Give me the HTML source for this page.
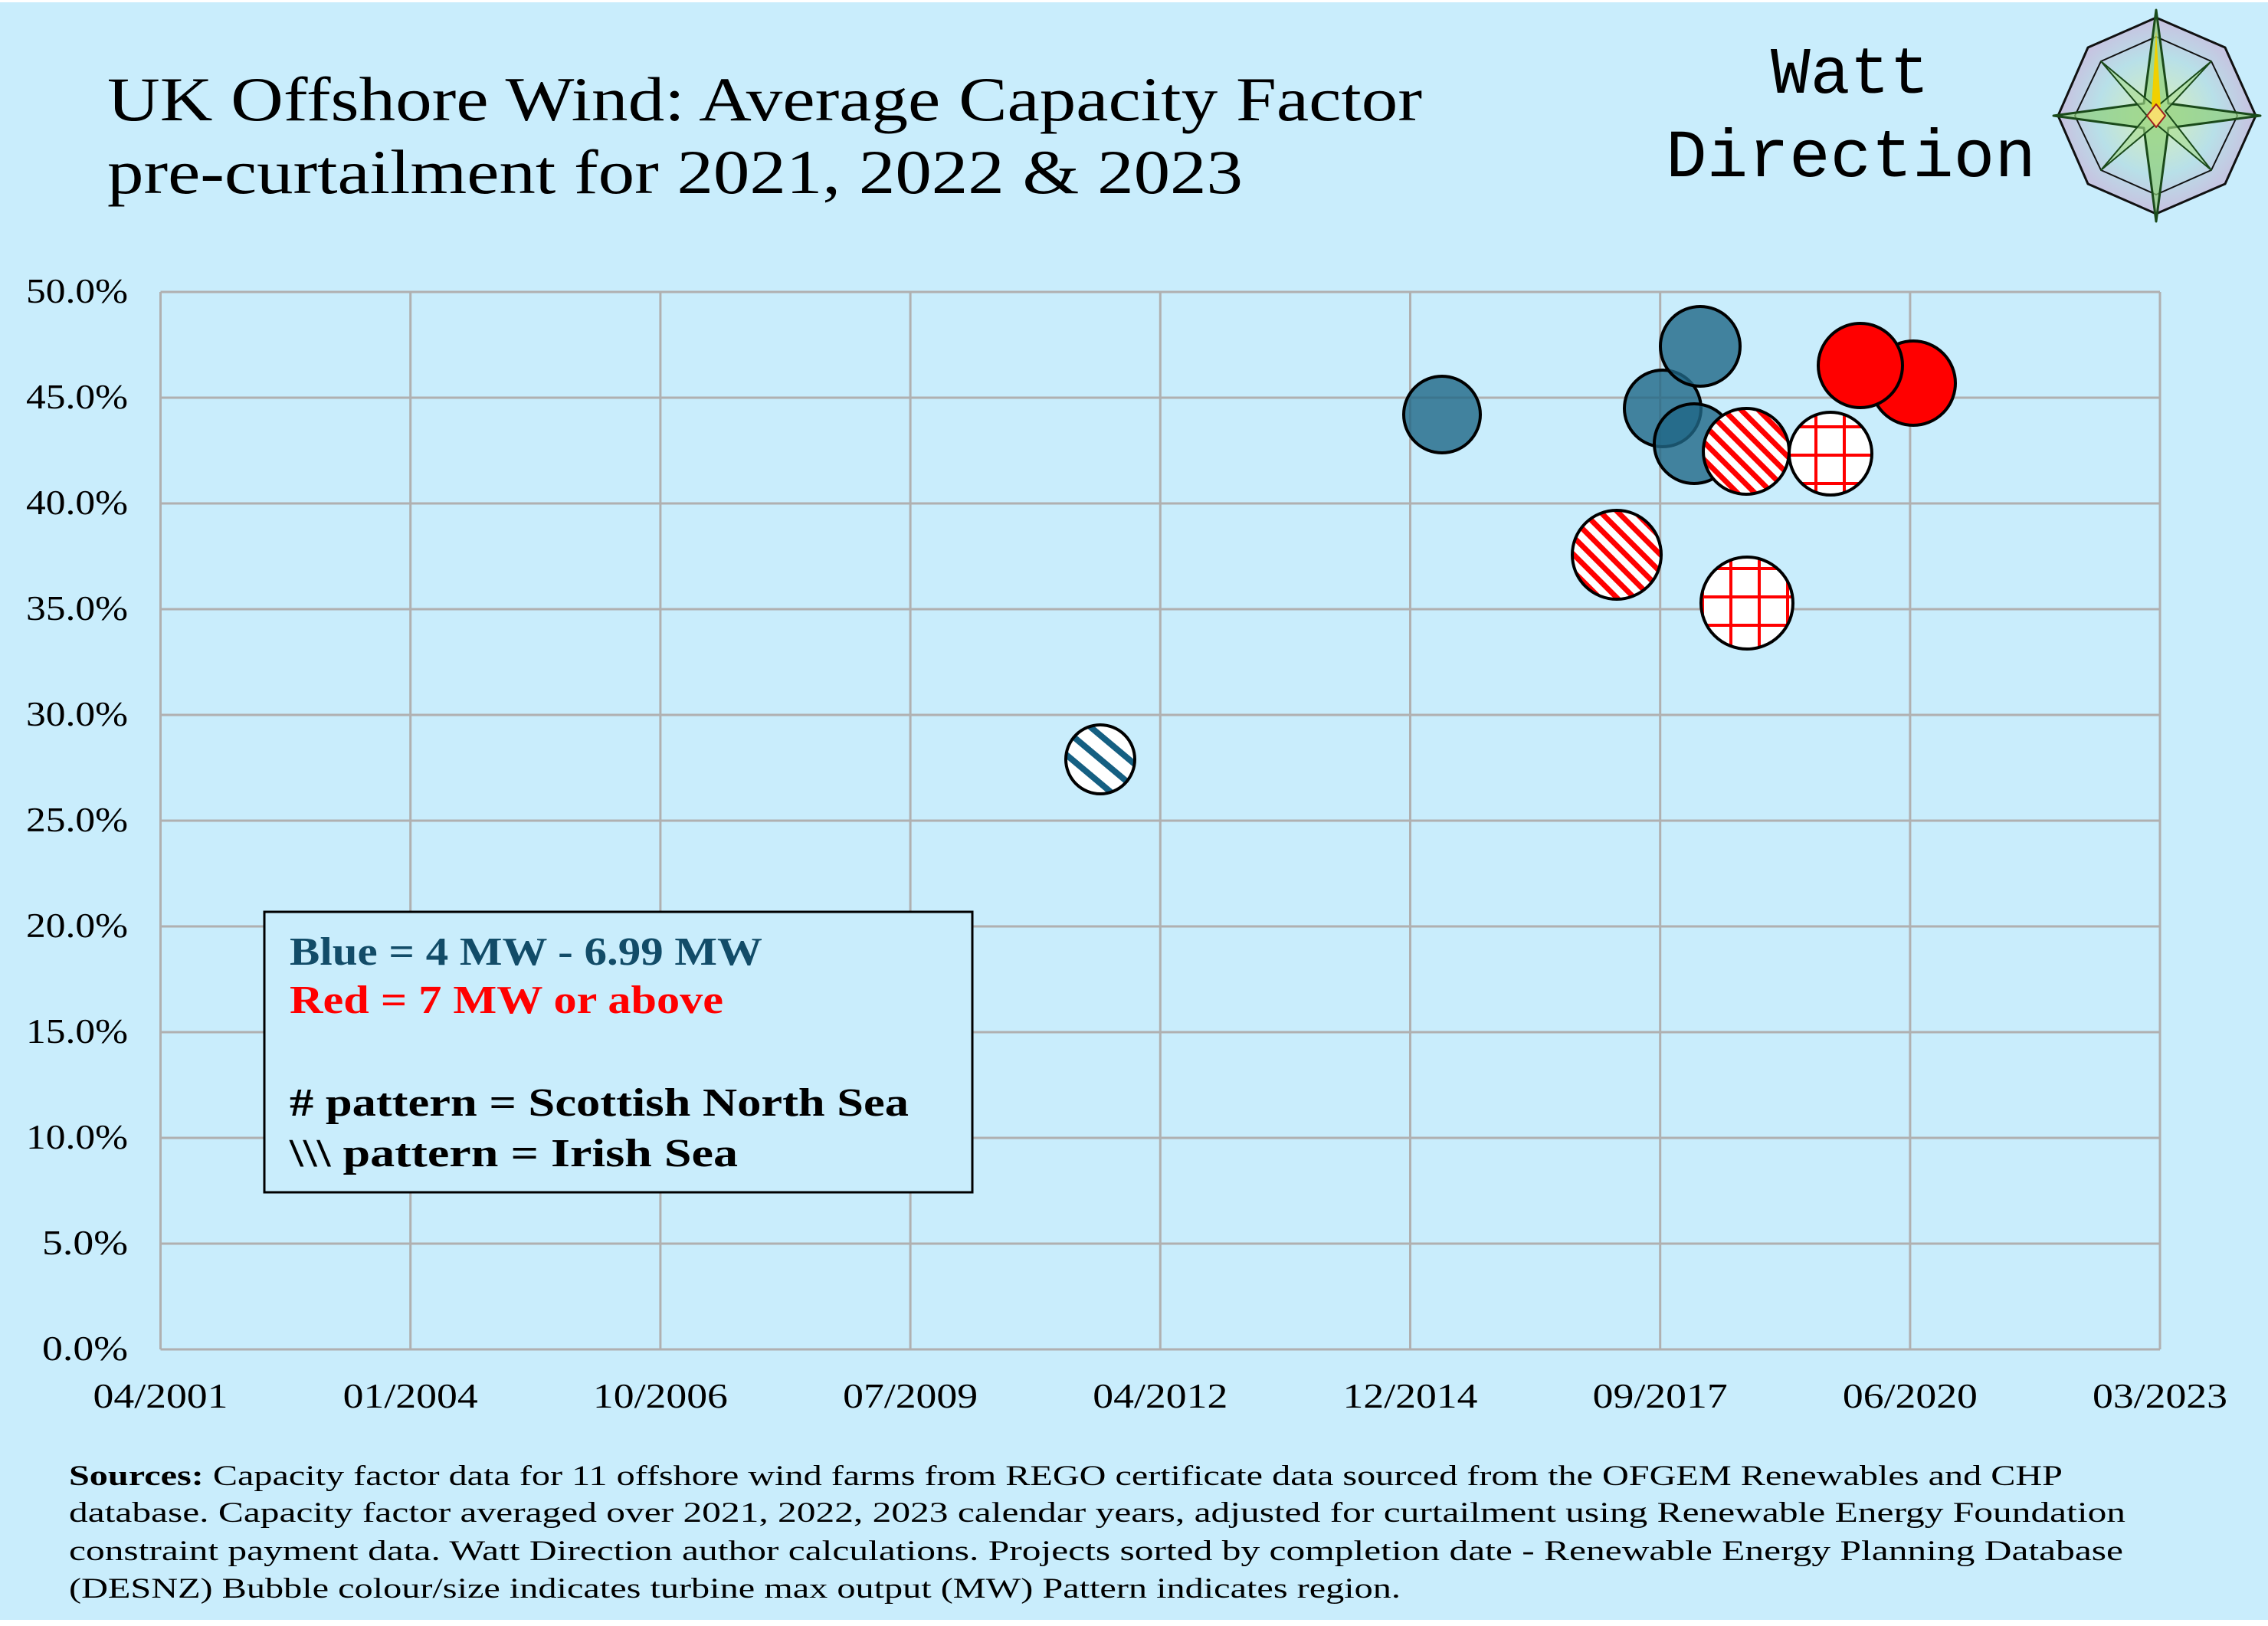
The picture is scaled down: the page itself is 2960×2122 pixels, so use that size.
<!DOCTYPE html>
<html><head><meta charset="utf-8"><style>
html,body{margin:0;padding:0;background:#fff;}
svg{display:block;}
</style></head><body>
<svg width="2960" height="2122" viewBox="0 0 2960 2122" xmlns="http://www.w3.org/2000/svg">
<defs>
<pattern id="rs" patternUnits="userSpaceOnUse" width="16" height="16" patternTransform="rotate(45)">
<rect width="16" height="16" fill="#fff"/><rect width="16" height="7" fill="#ff0000"/>
</pattern>
<pattern id="bs" patternUnits="userSpaceOnUse" width="24" height="24" patternTransform="rotate(40)">
<rect width="24" height="24" fill="#fff"/><rect width="24" height="8" fill="#155f82"/>
</pattern>
<pattern id="rg" patternUnits="userSpaceOnUse" width="37" height="37">
<rect width="37" height="37" fill="#fff"/><rect x="0" y="0" width="37" height="4" fill="#ff0000"/><rect x="0" y="0" width="4" height="37" fill="#ff0000"/>
</pattern>
<radialGradient id="cg" cx="50%" cy="50%" r="50%">
<stop offset="0" stop-color="#d8f0b8"/><stop offset="0.6" stop-color="#b8e0e8"/><stop offset="1" stop-color="#c8c0e0"/>
</radialGradient>
</defs>
<rect x="0" y="3" width="2960" height="2111" fill="#c9edfc"/>

<g font-family="Liberation Serif, serif" fill="#000">
<text x="140" y="157" font-size="82" textLength="1716" lengthAdjust="spacingAndGlyphs">UK Offshore Wind: Average Capacity Factor</text>
<text x="140" y="252" font-size="82" textLength="1482" lengthAdjust="spacingAndGlyphs">pre-curtailment for 2021, 2022 &amp; 2023</text>
</g>
<g font-family="Liberation Mono, monospace" fill="#000">
<text x="2311" y="121" font-size="86" textLength="207" lengthAdjust="spacingAndGlyphs">Watt</text>
<text x="2174" y="230" font-size="88" textLength="483" lengthAdjust="spacingAndGlyphs">Direction</text>
</g>

<g stroke="#111" stroke-width="3" stroke-linejoin="round">
<polygon points="2814,23 2904,62 2944,151 2904,240 2814,279 2725,240 2686,151 2725,62" fill="url(#cg)"/>
<polygon points="2814,48 2886,80 2920,151 2886,222 2814,254 2742,222 2708,151 2742,80" fill="none" stroke-width="2"/>
<polygon points="2814,13 2830,135 2950,151 2830,167 2814,289 2798,167 2680,151 2798,135" fill="#8fd07a" fill-opacity="0.7" stroke="#1a4a1a"/>
<polygon points="2886,80 2826,145 2886,222 2814,162 2742,222 2802,151 2742,80 2814,140" fill="#a8dc90" fill-opacity="0.6" stroke="#1a4a1a" stroke-width="2"/>
<polygon points="2814,40 2820,140 2808,140" fill="#f0d000" stroke="none"/>
<polygon points="2814,136 2826,151 2814,166 2802,151" fill="#f5e070" stroke="#a02020" stroke-width="2"/>
</g>

<g stroke="#b0b0b0" stroke-width="3">
<line x1="209.5" y1="381" x2="2819" y2="381"/>
<line x1="209.5" y1="519" x2="2819" y2="519"/>
<line x1="209.5" y1="657" x2="2819" y2="657"/>
<line x1="209.5" y1="795" x2="2819" y2="795"/>
<line x1="209.5" y1="933" x2="2819" y2="933"/>
<line x1="209.5" y1="1071" x2="2819" y2="1071"/>
<line x1="209.5" y1="1209" x2="2819" y2="1209"/>
<line x1="209.5" y1="1347" x2="2819" y2="1347"/>
<line x1="209.5" y1="1485" x2="2819" y2="1485"/>
<line x1="209.5" y1="1623" x2="2819" y2="1623"/>
<line x1="209.5" y1="1761" x2="2819" y2="1761"/>
<line x1="209.5" y1="381" x2="209.5" y2="1761"/>
<line x1="535.7" y1="381" x2="535.7" y2="1761"/>
<line x1="861.9" y1="381" x2="861.9" y2="1761"/>
<line x1="1188.1" y1="381" x2="1188.1" y2="1761"/>
<line x1="1514.3" y1="381" x2="1514.3" y2="1761"/>
<line x1="1840.5" y1="381" x2="1840.5" y2="1761"/>
<line x1="2166.7" y1="381" x2="2166.7" y2="1761"/>
<line x1="2492.9" y1="381" x2="2492.9" y2="1761"/>
<line x1="2819" y1="381" x2="2819" y2="1761"/>
</g>

<g font-family="Liberation Serif, serif" font-size="45" text-anchor="end" fill="#000">
<text x="167" y="395" textLength="133" lengthAdjust="spacingAndGlyphs">50.0%</text>
<text x="167" y="533" textLength="133" lengthAdjust="spacingAndGlyphs">45.0%</text>
<text x="167" y="671" textLength="133" lengthAdjust="spacingAndGlyphs">40.0%</text>
<text x="167" y="809" textLength="133" lengthAdjust="spacingAndGlyphs">35.0%</text>
<text x="167" y="947" textLength="133" lengthAdjust="spacingAndGlyphs">30.0%</text>
<text x="167" y="1085" textLength="133" lengthAdjust="spacingAndGlyphs">25.0%</text>
<text x="167" y="1223" textLength="133" lengthAdjust="spacingAndGlyphs">20.0%</text>
<text x="167" y="1361" textLength="133" lengthAdjust="spacingAndGlyphs">15.0%</text>
<text x="167" y="1499" textLength="133" lengthAdjust="spacingAndGlyphs">10.0%</text>
<text x="167" y="1637" textLength="112" lengthAdjust="spacingAndGlyphs">5.0%</text>
<text x="167" y="1775" textLength="112" lengthAdjust="spacingAndGlyphs">0.0%</text>
</g>
<g font-family="Liberation Serif, serif" font-size="46" text-anchor="middle" fill="#000">
<text x="209.5" y="1837" textLength="176" lengthAdjust="spacingAndGlyphs">04/2001</text>
<text x="535.7" y="1837" textLength="176" lengthAdjust="spacingAndGlyphs">01/2004</text>
<text x="861.9" y="1837" textLength="176" lengthAdjust="spacingAndGlyphs">10/2006</text>
<text x="1188.1" y="1837" textLength="176" lengthAdjust="spacingAndGlyphs">07/2009</text>
<text x="1514.3" y="1837" textLength="176" lengthAdjust="spacingAndGlyphs">04/2012</text>
<text x="1840.5" y="1837" textLength="176" lengthAdjust="spacingAndGlyphs">12/2014</text>
<text x="2166.7" y="1837" textLength="176" lengthAdjust="spacingAndGlyphs">09/2017</text>
<text x="2492.9" y="1837" textLength="176" lengthAdjust="spacingAndGlyphs">06/2020</text>
<text x="2819" y="1837" textLength="176" lengthAdjust="spacingAndGlyphs">03/2023</text>
</g>

<g stroke="#000" stroke-width="4">
<circle cx="1436" cy="991" r="45" fill="url(#bs)"/>
<circle cx="1882" cy="541" r="50" fill="#1f6686" fill-opacity="0.8"/>
<circle cx="2170" cy="533" r="50" fill="#1f6686" fill-opacity="0.8"/>
<circle cx="2219" cy="452" r="52" fill="#1f6686" fill-opacity="0.8"/>
<circle cx="2211" cy="579" r="52" fill="#1f6686" fill-opacity="0.8"/>
<circle cx="2497" cy="500" r="55" fill="#ff0000"/>
<circle cx="2428" cy="477" r="55" fill="#ff0000"/>
<circle cx="2279" cy="589" r="56" fill="url(#rs)"/>
<circle cx="2389" cy="592" r="54" fill="url(#rg)"/>
<circle cx="2110" cy="724" r="58" fill="url(#rs)"/>
<circle cx="2280" cy="787" r="60" fill="url(#rg)"/>
</g>

<rect x="345" y="1190" width="924" height="366" fill="#c9edfc" stroke="#000" stroke-width="3"/>
<g font-family="Liberation Serif, serif" font-weight="bold" font-size="52">
<text x="378" y="1259" fill="#124c68" textLength="617" lengthAdjust="spacingAndGlyphs">Blue = 4 MW -  6.99 MW</text>
<text x="378" y="1322" fill="#ff0000" textLength="566" lengthAdjust="spacingAndGlyphs">Red =  7 MW or above</text>
<text x="378" y="1456" fill="#000" textLength="808" lengthAdjust="spacingAndGlyphs"># pattern = Scottish North Sea</text>
<text x="378" y="1522" fill="#000" textLength="585" lengthAdjust="spacingAndGlyphs">\\\ pattern = Irish Sea</text>
</g>

<g font-family="Liberation Serif, serif" font-size="37" fill="#000">
<text x="90" y="1938" textLength="2602" lengthAdjust="spacingAndGlyphs"><tspan font-weight="bold">Sources:</tspan> Capacity factor data for 11 offshore wind farms from REGO certificate data sourced from the OFGEM Renewables and CHP</text>
<text x="90" y="1986" textLength="2684" lengthAdjust="spacingAndGlyphs">database. Capacity factor  averaged over 2021, 2022, 2023 calendar years, adjusted for curtailment using  Renewable Energy Foundation</text>
<text x="90" y="2036" textLength="2681" lengthAdjust="spacingAndGlyphs">constraint payment data. Watt Direction author calculations. Projects sorted by completion date - Renewable Energy Planning Database</text>
<text x="90" y="2085" textLength="1738" lengthAdjust="spacingAndGlyphs">(DESNZ) Bubble colour/size indicates turbine max output (MW) Pattern indicates region.</text>
</g>
</svg>
</body></html>
